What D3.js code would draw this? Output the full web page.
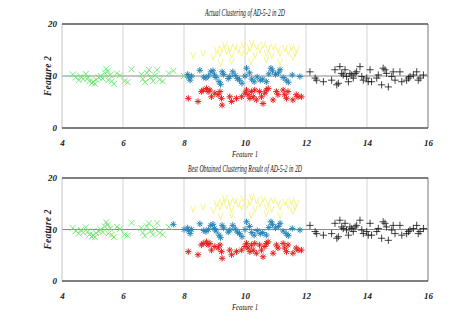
<!DOCTYPE html>
<html><head><meta charset="utf-8">
<script src="https://cdn.jsdelivr.net/npm/d3@7/dist/d3.min.js"></script>
<style>body{margin:0;background:#fff}svg{display:block}</style>
</head><body>
<svg id="c" width="474" height="323"></svg>
<script>
// ---- data ----
const xTicks = [4, 6, 8, 10, 12, 14, 16];
const yTicks = [0, 10, 20];
const titles = ["Actual Clustering of AD-5-2 in 2D", "Best Obtained  Clustering Result of AD-5-2 in 2D"];
const xLabel = "Feature 1";
const yLabel = "Feature 2";

const greenX = [4.35,4.45,4.55,4.62,4.7,4.78,4.85,4.9,4.98,5.02,5.08,5.12,5.2,5.27,5.33,5.4,5.45,5.5,5.52,5.58,5.63,5.7,5.8,5.9,6.05,6.15,6.28,6.6,6.65,6.72,6.78,6.85,6.9,6.98,7.05,7.12,7.2,7.3,7.5,7.65,8.0];
const greenY = [10.3,9.7,9.2,9.9,9.4,10.4,9.6,9.0,8.6,8.9,8.5,9.3,9.7,10.0,9.5,10.6,11.4,10.9,9.2,10.2,9.0,8.5,10.5,10.1,9.0,8.8,11.3,10.3,9.4,8.8,10.6,11.2,9.7,9.0,10.1,11.2,9.3,9.0,10.5,11.0,10.0];

const blueX = [8.12,8.15,8.2,8.25,8.52,8.65,8.72,8.8,8.88,8.95,9.0,9.05,9.15,9.2,9.25,9.3,9.45,9.5,9.6,9.68,9.75,9.82,9.9,10.0,10.05,10.15,10.22,10.3,10.4,10.5,10.58,10.7,10.78,10.85,10.9,11.0,11.1,11.15,11.25,11.35,11.42,11.55,11.8];
const blueY = [10.3,9.8,9.2,10.0,11.1,9.8,9.6,10.0,10.8,11.0,10.2,9.7,8.9,8.4,10.8,10.3,9.5,9.9,10.8,10.1,9.5,9.2,8.6,10.0,11.5,10.6,9.4,8.9,9.8,9.2,9.4,8.9,10.4,11.5,11.0,10.3,10.6,11.2,9.7,9.2,8.8,10.2,9.9];

const redX = [8.14,8.46,8.57,8.63,8.74,8.79,8.85,8.9,9.01,9.12,9.18,9.23,9.25,9.5,9.56,9.72,9.89,10.0,10.05,10.1,10.16,10.21,10.27,10.32,10.37,10.48,10.54,10.59,10.65,10.7,10.76,10.92,11.03,11.08,11.25,11.3,11.36,11.41,11.57,11.68,11.74,11.85];
const redY = [5.7,5.1,7.0,7.3,7.6,7.0,7.3,6.0,6.7,6.4,7.0,5.7,4.4,6.0,5.1,5.7,6.0,6.7,7.3,6.4,5.7,7.0,6.0,7.3,5.4,7.0,6.0,4.7,6.7,7.3,7.6,5.4,7.0,6.4,7.3,6.4,5.7,7.0,5.4,6.4,6.0,6.0];

const yellowX = [8.3,8.63,8.96,9.07,9.18,9.24,9.34,9.4,9.51,9.56,9.67,9.78,9.89,9.95,10.06,10.16,10.22,10.33,10.38,10.49,10.6,10.71,10.76,10.88,10.93,11.09,11.15,11.31,11.42,11.53,11.64,11.69,9.2,9.56,10.2,10.7,11.15,11.57];
const yellowY = [14.0,14.4,13.7,15.0,14.4,15.3,16.0,14.7,15.3,14.0,15.6,15.0,14.4,16.0,14.7,15.3,16.3,14.0,15.6,15.0,16.0,14.4,15.3,14.0,15.6,15.0,14.4,15.3,14.7,15.6,14.4,15.0,12.5,12.8,12.8,13.1,12.7,13.6];

const blackX = [12.13,12.3,12.35,12.57,12.84,12.95,13.01,13.06,13.11,13.17,13.22,13.28,13.33,13.39,13.44,13.5,13.55,13.61,13.66,13.77,13.83,13.88,13.99,14.04,14.1,14.15,14.32,14.37,14.48,14.53,14.59,14.64,14.7,14.81,14.86,14.92,15.08,15.14,15.3,15.36,15.41,15.52,15.63,15.68,15.74,15.85];
const blackY = [10.8,9.6,9.2,8.9,9.2,11.2,8.3,8.6,11.8,10.5,10.2,11.2,9.9,8.9,10.5,10.2,9.6,10.5,10.8,11.8,9.9,9.2,9.6,8.9,11.2,8.9,9.6,10.2,8.3,11.5,11.2,10.5,7.9,9.9,10.8,9.2,10.8,8.9,9.2,9.6,9.9,10.2,10.8,9.2,9.6,10.2];

// green points that the obtained clustering assigned to the blue cluster
const obtainedGreenToBlue = [39, 40];

// ---- drawing ----
const svg = d3.select("#c");
const x = d3.scaleLinear().domain([4, 16]).range([62, 428]);
const serif = "'Liberation Serif','DejaVu Serif',serif";

const markers = {
  x: s => `M${-s},${-s}L${s},${s}M${-s},${s}L${s},${-s}`,
  star: s => `M${-s},0L${s},0M0,${-s}L0,${s}M${-s*0.7},${-s*0.7}L${s*0.7},${s*0.7}M${-s*0.7},${s*0.7}L${s*0.7},${-s*0.7}`,
  plus: s => `M${-s},0L${s},0M0,${-s}L0,${s}`,
  vee: s => `M${-s*0.7},${-s}L0,${s}L${s*0.7},${-s}`
};

function panel(top, bottom, title, titleY, titleW, obtained) {
  const y = d3.scaleLinear().domain([0, 20]).range([bottom, top]);
  const g = svg.append("g");
  // grid
  g.selectAll(".vg").data(xTicks.slice(1, -1)).join("line")
    .attr("x1", d => x(d)).attr("x2", d => x(d)).attr("y1", y(20)).attr("y2", y(0))
    .attr("stroke", "#d4d4d4").attr("stroke-width", 1);
  g.append("line").attr("x1", x(4)).attr("x2", x(16)).attr("y1", y(10)).attr("y2", y(10))
    .attr("stroke", "#8a8a8a").attr("stroke-width", 1);
  // frame
  g.append("line").attr("x1", x(4)).attr("x2", x(4)).attr("y1", y(20)).attr("y2", y(0)).attr("stroke", "#c4c4c4");
  g.append("line").attr("x1", x(16)).attr("x2", x(16)).attr("y1", y(20)).attr("y2", y(0)).attr("stroke", "#777");
  g.append("line").attr("x1", x(4)).attr("x2", x(16)).attr("y1", y(20)).attr("y2", y(20)).attr("stroke", "#555").attr("stroke-width", 1.5);
  g.append("line").attr("x1", x(4)).attr("x2", x(16)).attr("y1", y(0)).attr("y2", y(0)).attr("stroke", "#555").attr("stroke-width", 1.5);

  // axes (labels only)
  const xa = g.append("g").attr("transform", `translate(0,${bottom + 9})`)
    .call(d3.axisBottom(x).tickValues(xTicks).tickFormat(d3.format("d")).tickSize(0));
  xa.select(".domain").remove();
  xa.selectAll("text").attr("font-family", serif).attr("font-style", "italic").attr("font-weight", "bold")
    .attr("font-size", 9).attr("fill", "#222");
  const ya = g.append("g").attr("transform", `translate(${x(4) - 2},0)`)
    .call(d3.axisLeft(y).tickValues(yTicks).tickFormat(d3.format("d")).tickSize(0));
  ya.select(".domain").remove();
  ya.selectAll("text").attr("font-family", serif).attr("font-style", "italic").attr("font-weight", "bold")
    .attr("font-size", 9).attr("fill", "#222");

  // labels
  g.append("text").attr("x", 245).attr("y", titleY).attr("text-anchor", "middle")
    .attr("font-family", serif).attr("font-style", "italic").attr("font-size", 9.5).attr("fill", "#111")
    .attr("textLength", titleW).attr("lengthAdjust", "spacingAndGlyphs").text(title);
  g.append("text").attr("x", 245).attr("y", bottom + 29).attr("text-anchor", "middle")
    .attr("font-family", serif).attr("font-style", "italic").attr("font-size", 9).attr("fill", "#111")
    .attr("textLength", 26).attr("lengthAdjust", "spacingAndGlyphs").text(xLabel);
  g.append("text").attr("transform", `translate(51,${(top + bottom) / 2}) rotate(-90)`)
    .attr("text-anchor", "middle").attr("font-family", serif).attr("font-style", "italic").attr("font-weight", "bold")
    .attr("font-size", 9.5).attr("fill", "#222").attr("textLength", 40).attr("lengthAdjust", "spacing").text(yLabel);

  // clusters
  const pts = (X, Y) => X.map((v, i) => ({ x: v, y: Y[i], i }));
  let green = pts(greenX, greenY), blue = pts(blueX, blueY);
  if (obtained) {
    blue = blue.concat(green.filter(p => obtainedGreenToBlue.includes(p.i)));
    green = green.filter(p => !obtainedGreenToBlue.includes(p.i));
  }
  const sets = [
    { d: pts(yellowX, yellowY), m: markers.vee(3.4), c: "#f6f27a", w: 0.9 },
    { d: green, m: markers.x(3.0), c: "#6ae66a", w: 0.9 },
    { d: pts(redX, redY), m: markers.star(3.2), c: "#e82020", w: 1 },
    { d: blue, m: markers.star(3.2), c: "#2a86b8", w: 1 },
    { d: pts(blackX, blackY), m: markers.plus(3.6), c: "#111", w: 0.8 }
  ];
  sets.forEach(s => {
    g.append("g").selectAll("path").data(s.d).join("path")
      .attr("transform", d => `translate(${x(d.x)},${y(d.y)})`)
      .attr("d", s.m).attr("fill", "none").attr("stroke", s.c).attr("stroke-width", s.w);
  });
}

panel(24, 128, titles[0], 16, 80, false);
panel(178, 281, titles[1], 172, 114, true);
</script>
</body></html>
